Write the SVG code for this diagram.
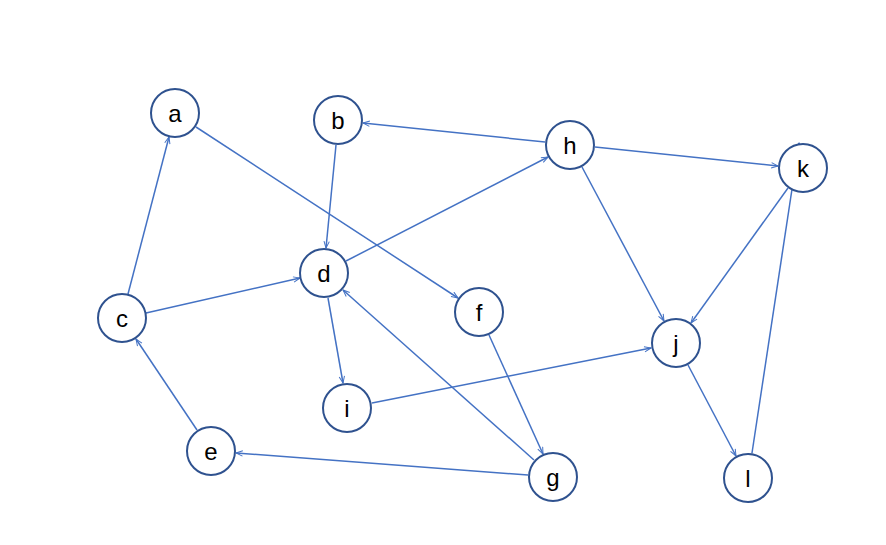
<svg xmlns="http://www.w3.org/2000/svg" width="886" height="545" viewBox="0 0 886 545">
<style>
.n circle{fill:#fff;stroke:#2f528f;stroke-width:2}
.n text{font-family:"Liberation Sans","Open Sans",sans-serif;font-size:24px;fill:#000;text-anchor:middle;dominant-baseline:central}
#edges line{stroke:#4472c4;stroke-width:1.5;marker-end:url(#ar)}
</style>
<defs><marker id="ar" viewBox="0 0 12 10" refX="11" refY="5" markerWidth="8" markerHeight="7" markerUnits="userSpaceOnUse" orient="auto"><path d="M1,1 L11,5 L1,9" fill="none" stroke="#4472c4" stroke-width="1.5"/></marker></defs>
<rect width="886" height="545" fill="#fff"/>
<g id="edges">
<line x1="196" y1="127" x2="458" y2="298"/>
<line x1="128" y1="294" x2="169" y2="137"/>
<line x1="146" y1="313" x2="300" y2="278"/>
<line x1="336" y1="145" x2="326" y2="248"/>
<line x1="545" y1="142" x2="363" y2="123"/>
<line x1="595" y1="147" x2="778" y2="166"/>
<line x1="582" y1="167" x2="664" y2="321"/>
<line x1="346" y1="261" x2="548" y2="157"/>
<line x1="328" y1="298" x2="343" y2="383"/>
<line x1="534" y1="460" x2="343" y2="290"/>
<line x1="489" y1="335" x2="543" y2="454"/>
<line x1="372" y1="403" x2="651" y2="348"/>
<line x1="788" y1="188" x2="691" y2="323"/>
<line x1="688" y1="365" x2="736" y2="456"/>
<line x1="752" y1="453" x2="799" y2="143"/>
<line x1="528" y1="475" x2="236" y2="453"/>
<line x1="197" y1="430" x2="136" y2="339"/>
</g>
<g id="a" class="n"><circle cx="175" cy="113" r="24"/><text x="175" y="113">a</text></g>
<g id="b" class="n"><circle cx="338" cy="120" r="24"/><text x="338" y="120">b</text></g>
<g id="h" class="n"><circle cx="570" cy="145" r="24"/><text x="570" y="145">h</text></g>
<g id="k" class="n"><circle cx="803" cy="168" r="24"/><text x="803" y="168">k</text></g>
<g id="d" class="n"><circle cx="324" cy="273" r="24"/><text x="324" y="273">d</text></g>
<g id="c" class="n"><circle cx="122" cy="318" r="24"/><text x="122" y="318">c</text></g>
<g id="f" class="n"><circle cx="479" cy="312" r="24"/><text x="479" y="312">f</text></g>
<g id="j" class="n"><circle cx="676" cy="343" r="24"/><text x="676" y="343">j</text></g>
<g id="i" class="n"><circle cx="347" cy="408" r="24"/><text x="347" y="408">i</text></g>
<g id="e" class="n"><circle cx="211" cy="451" r="24"/><text x="211" y="451">e</text></g>
<g id="g" class="n"><circle cx="553" cy="477" r="24"/><text x="553" y="477">g</text></g>
<g id="l" class="n"><circle cx="748" cy="478" r="24"/><text x="748" y="478">l</text></g>
</svg>
